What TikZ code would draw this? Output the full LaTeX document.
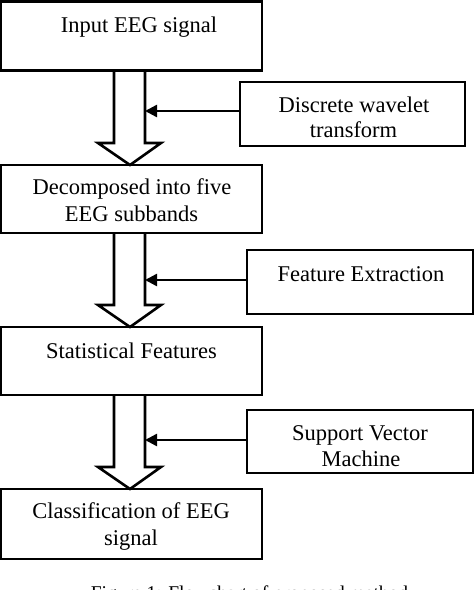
\documentclass[tikz,border=0pt]{standalone}
\usepackage{fontspec}
\setmainfont{Liberation Serif}
\usetikzlibrary{arrows.meta,calc}
\newcommand{\blkarrow}[2]{%
  \draw[blk] ($(#1.south)+(-17.5,0)$) -- ($(#2.north)+(-17.5,-22)$)
    -- ($(#2.north)+(-33.5,-22)$) -- ($(#2.north)+(-1.5,0)$)
    -- ($(#2.north)+(29.5,-22)$) -- ($(#2.north)+(13.5,-22)$)
    -- ($(#1.south)+(13.5,0)$);}
\begin{document}
\begin{tikzpicture}[x=1pt,y=-1pt,
  box/.style={draw,line width=2.6pt,rectangle,inner sep=0pt,outer sep=0pt},
  txt/.style={anchor=base,inner sep=0pt,font=\fontsize{22.5}{27}\selectfont},
  captxt/.style={anchor=base,inner sep=0pt,font=\fontsize{19.5}{23}\selectfont},
  blk/.style={draw,line width=2.6pt,line join=miter},
  feed/.style={line width=2.4pt,-{Triangle[length=12pt,width=12pt]}}]
\clip (0,0) rectangle (474,590);
\useasboundingbox (0,0) rectangle (474,590);
% main column
\node[box,minimum width=261pt,minimum height=69pt] (b1) at (131.5,36) {};
\node[box,minimum width=261pt,minimum height=68pt] (b2) at (131.5,199) {};
\node[box,minimum width=261pt,minimum height=68pt] (b3) at (131.5,361) {};
\node[box,minimum width=261pt,minimum height=70pt] (b4) at (131.5,524) {};
% side boxes
\node[box,minimum width=225pt,minimum height=64pt] (r1) at (352.5,114) {};
\node[box,minimum width=226pt,minimum height=64pt] (r2) at (360,282) {};
\node[box,minimum width=226pt,minimum height=63pt] (r3) at (360,441.5) {};
% texts
\node[txt] (t1) at (139,32) {Input EEG signal};
\node[txt] (t2a) at (132,194) {Decomposed into five};
\node[txt] (t2b) at (131.5,221) {EEG subbands};
\node[txt] (t3) at (131.5,358) {Statistical Features};
\node[txt] (t4a) at (131,518) {Classification of EEG};
\node[txt] (t4b) at (131,545) {signal};
\node[txt] (u1a) at (354,112) {Discrete wavelet};
\node[txt] (u1b) at (353.5,137) {transform};
\node[txt] (u2) at (361,281) {Feature Extraction};
\node[txt] (u3a) at (360,440) {Support Vector};
\node[txt] (u3b) at (361,466) {Machine};
\node[captxt] (caption) at (249.5,599) {Figure 1: Flowchart of proposed method};
% block arrows
\blkarrow{b1}{b2}
\blkarrow{b2}{b3}
\blkarrow{b3}{b4}
% feed arrows
\coordinate (s1) at (145,111);
\coordinate (s2) at (145,280);
\coordinate (s3) at (145,440);
\draw[feed] (r1.west |- s1) -- (s1);
\draw[feed] (r2.west |- s2) -- (s2);
\draw[feed] (r3.west |- s3) -- (s3);
\end{tikzpicture}
\end{document}
